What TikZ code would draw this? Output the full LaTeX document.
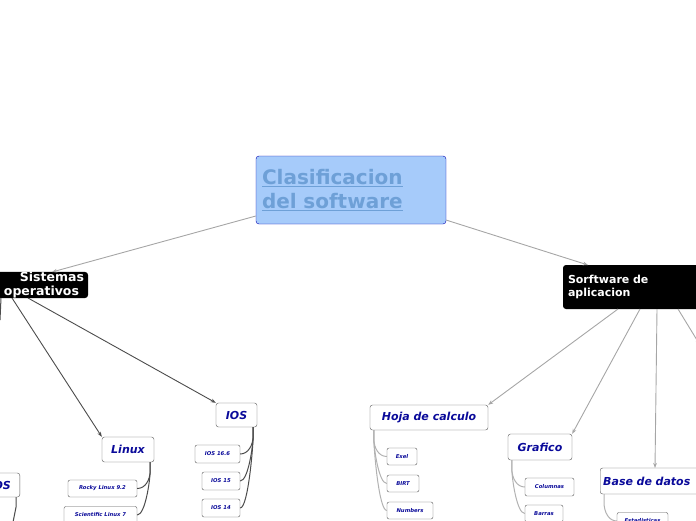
\documentclass[tikz,border=0pt]{standalone}
\usepackage{fontspec}
\setmainfont{DejaVu Sans}
\usetikzlibrary{arrows.meta}
\definecolor{navy}{HTML}{0A0A9A}
\begin{document}
\begin{tikzpicture}[x=1pt,y=-1pt,
 big/.style={draw=black!65,fill=white,rounded corners=2.5pt,font=\bfseries\itshape\fontsize{11}{13}\selectfont,text=navy,inner sep=0pt},
 small/.style={draw=black!65,fill=white,rounded corners=2pt,font=\bfseries\itshape\fontsize{5.3}{6}\selectfont,text=navy,inner sep=0pt},
 blk/.style={fill=black,rounded corners=3pt,text=white,font=\bfseries\fontsize{11}{13}\selectfont,align=left,inner sep=0pt},
 darr/.style={draw=black!70,line width=0.9pt,-{Stealth[length=5pt]}},
 garr/.style={draw=black!35,line width=0.9pt,-{Stealth[length=5pt]}},
 dlink/.style={draw=black!70,line width=1pt},
 glink/.style={draw=black!30,line width=1pt}]
\useasboundingbox (0,0) rectangle (696,520);
\clip (0,0) rectangle (696,520);
% root
\node[draw=blue!70!black,fill={rgb,255:red,166;green,203;blue,250},rounded corners=3pt,minimum width=190pt,minimum height=68pt,inner sep=0pt,text width=178pt,align=left,text={rgb,255:red,110;green,160;blue,215},font=\bfseries\fontsize{20}{24}\selectfont] (root) at (351,190) {\underline{Clasificacion}\\\underline{del software}};
% black nodes
\node[blk,minimum width=150pt,minimum height=26pt,text width=142pt,align=right,font=\bfseries\fontsize{12.5}{14}\selectfont] (so) at (13,285) {Sistemas operativos\hspace*{5pt}};
\node[blk,minimum width=150pt,minimum height=44pt,text width=140pt] (sa) at (638,287) {Sorftware de\\aplicacion};
% left level
\node[big,minimum width=52pt,minimum height=25pt] (linux) at (128,449.5) {Linux};
\node[big,minimum width=41pt,minimum height=24pt] (ios) at (236.5,415) {IOS};
\node[big,minimum width=60pt,minimum height=24pt,anchor=east] (os) at (20,485) {MacOS};
\node[small,minimum width=69pt,minimum height=17pt] (rl) at (102.5,488.5) {Rocky Linux 9.2};
\node[small,minimum width=73pt,minimum height=17pt] (sl) at (100.5,515) {Scientific Linux 7};
\node[small,minimum width=45pt,minimum height=18pt] (i1) at (217.5,454) {IOS 16.6};
\node[small,minimum width=38pt,minimum height=18pt] (i2) at (221,481) {IOS 15};
\node[small,minimum width=38pt,minimum height=18pt] (i3) at (221,508) {IOS 14};
% right level
\node[big,minimum width=118pt,minimum height=25pt] (hoja) at (429,417.5) {Hoja de calculo};
\node[big,minimum width=64pt,minimum height=26pt] (graf) at (540,447) {Grafico};
\node[big,minimum width=110pt,minimum height=26pt,anchor=west,text width=104pt,align=left] (base) at (600,481) {Base de datos};
\node[small,minimum width=30pt,minimum height=17pt] (ex) at (402,456.5) {Exel};
\node[small,minimum width=32pt,minimum height=17pt] (bi) at (403,483.5) {BIRT};
\node[small,minimum width=46pt,minimum height=17pt] (nu) at (410,510.5) {Numbers};
\node[small,minimum width=49pt,minimum height=18pt] (co) at (549.5,487) {Columnas};
\node[small,minimum width=38pt,minimum height=17pt] (ba) at (544,513.5) {Barras};
\node[small,minimum width=51pt,minimum height=17pt] (es) at (642.5,521) {Estadisticas};
% main arrows
\draw[garr] (root.west|-0,216) -- (52,272);
\draw[garr] (446,220) -- (588,265);
\draw[darr] (12,298) -- (linux.north west);
\draw[darr] (28,298) -- (ios.north west);
\draw[dlink] (1,298) -- (0,320);
\draw[garr] (618,309) -- (hoja.north east);
\draw[garr] (640,309) -- (graf.north east);
\draw[garr] (657,309) -- (655,468);
\draw[garr] (678,309) -- (700,345);
% children links
\foreach \c in {rl,sl}{\draw[dlink] (linux.south east) ++(-4,0) -- ++(0,8) .. controls +(0,10) and +(8,0) .. (\c.east);}
\foreach \c in {i1,i2,i3}{\draw[dlink] (ios.south east) ++(-4,0) -- ++(0,8) .. controls +(0,10) and +(8,0) .. (\c.east);}
\draw[dlink] (os.south east) ++(-4,0) -- ++(0,10) -- ++(-6,30);
\foreach \c in {ex,bi,nu}{\draw[glink] (hoja.south west) ++(4,0) -- ++(0,8) .. controls +(0,10) and +(-8,0) .. (\c.west);}
\foreach \c in {co,ba}{\draw[glink] (graf.south west) ++(4,0) -- ++(0,8) .. controls +(0,10) and +(-8,0) .. (\c.west);}
\draw[glink] (base.south west) ++(4,0) -- ++(0,8) .. controls +(0,10) and +(-8,0) .. (es.west);
\end{tikzpicture}
\end{document}
